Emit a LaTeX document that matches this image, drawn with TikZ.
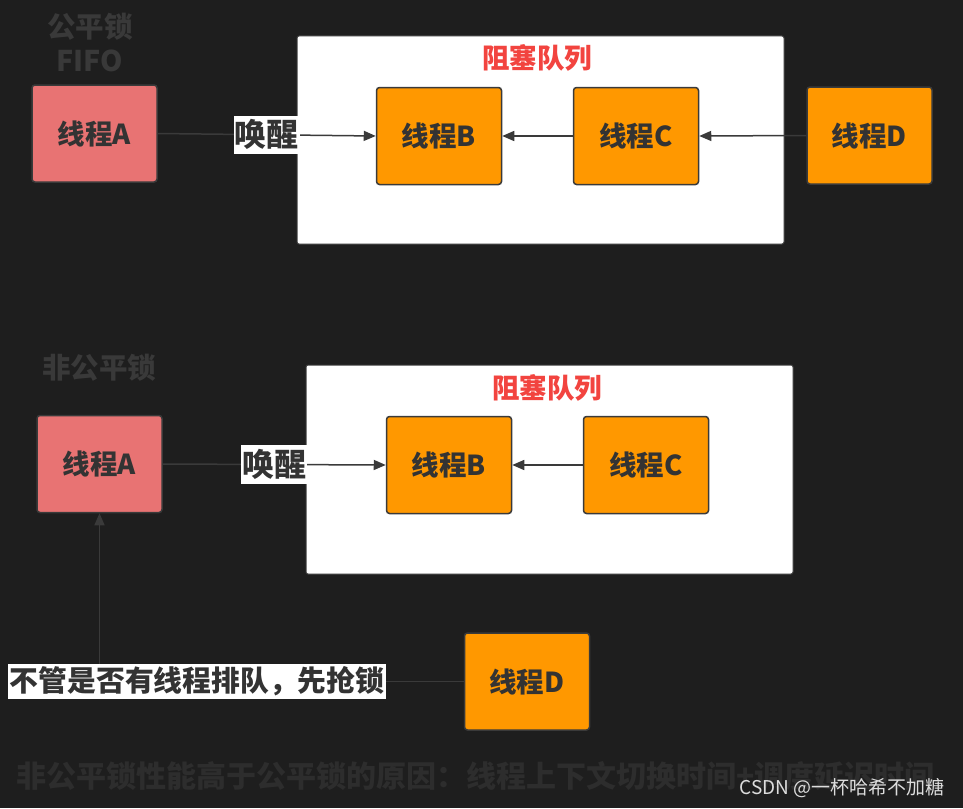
\documentclass[tikz,border=0pt]{standalone}
\usepackage{fontspec}
\setmainfont{Noto Sans CJK SC}
\usetikzlibrary{arrows.meta}
\definecolor{bgc}{HTML}{1E1E1E}
\definecolor{pinkc}{HTML}{E87373}
\definecolor{orangec}{HTML}{FF9800}
\definecolor{redc}{HTML}{F2443F}
\definecolor{headc}{HTML}{393939}
\definecolor{edgec}{HTML}{3A3A3A}
\definecolor{txtc}{HTML}{333333}
\definecolor{footc}{HTML}{2D2D2D}
\definecolor{markc}{HTML}{DDDDDD}
\tikzset{
  thread/.style={draw=edgec, line width=1.5pt, rounded corners=3pt, minimum width=125pt, minimum height=97pt, inner sep=0pt, text=txtc, font=\fontsize{27.5}{30}\selectfont\bfseries},
  pinkbox/.style={thread, fill=pinkc},
  orangebox/.style={thread, fill=orangec},
  queue/.style={fill=white, draw=edgec, line width=1pt, rounded corners=2pt},
  conn/.style={draw=edgec, line width=1.5pt, -{Triangle[length=12pt,width=10pt]}},
  heading/.style={text=headc, font=\fontsize{28.5}{34}\selectfont\bfseries, align=center},
  qtitle/.style={text=redc, font=\fontsize{27.5}{30}\selectfont\bfseries},
  lab/.style={fill=white, text=txtc, inner xsep=1pt, inner ysep=4pt, font=\fontsize{32}{34}\selectfont\bfseries},
  lablong/.style={fill=white, text=txtc, inner xsep=1.5pt, inner ysep=3pt, font=\fontsize{28.8}{30}\selectfont\bfseries},
}
\begin{document}
\begin{tikzpicture}[x=1pt,y=-1pt]
\fill[bgc] (0,0) rectangle (963,808);
\useasboundingbox (0,0) rectangle (963,808);

% ---------- fair lock ----------
\node[heading] (h1) at (90,27) {公平锁};
\node[heading] (h1b) at (90,61) {FIFO};
\path[queue] (297,36) rectangle (784,244);
\node[qtitle] (q1) at (537,58) {阻塞队列};
\node[pinkbox] (a1) at (94.5,133.5) {线程A};
\node[orangebox] (b1) at (439,136) {线程B};
\node[orangebox] (c1) at (636,136) {线程C};
\node[orangebox] (d1) at (869.5,135.5) {线程D};
\draw[conn] (a1.east) -- node[lab, pos=0.5] (w1) {唤醒} (b1.west);
\draw[conn] (c1.west) -- (b1.east);
\draw[conn] (d1.west) -- (c1.east);

% ---------- unfair lock ----------
\node[heading] (h2) at (99,368) {非公平锁};
\path[queue] (306,365) rectangle (793,574);
\node[qtitle] (q2) at (547,388) {阻塞队列};
\node[pinkbox] (a2) at (99.5,464) {线程A};
\node[orangebox] (b2) at (449,465) {线程B};
\node[orangebox] (c2) at (646,465) {线程C};
\node[orangebox] (d2) at (527,681.5) {线程D};
\draw[conn] (a2.east) -- node[lab, pos=0.5] (w2) {唤醒} (b2.west);
\draw[conn] (c2.west) -- (b2.east);
\draw[conn] (d2.west) -| node[lablong, pos=0.366] (g) {不管是否有线程排队，先抢锁} (a2.south);

% ---------- footer ----------
\node[text=footc, font=\fontsize{30}{32}\selectfont\bfseries, anchor=west] (f) at (13,776) {非公平锁性能高于公平锁的原因：线程上下文切换时间+调度延迟时间};
\node[text=markc, font=\fontsize{19}{20}\selectfont, anchor=east] (wm) at (948,788) {CSDN @一杯哈希不加糖};
\end{tikzpicture}
\end{document}
